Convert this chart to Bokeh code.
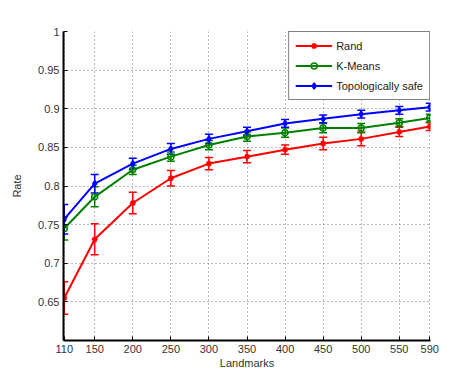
from bokeh.plotting import figure
from bokeh.models import (Range1d, FixedTicker, ColumnDataSource, Whisker, TeeHead,
                          Legend, LegendItem)
from bokeh.embed import file_html
from bokeh.resources import INLINE

landmarks = [110, 150, 200, 250, 300, 350, 400, 450, 500, 550, 590]
rand_mean = [0.655, 0.731, 0.778, 0.810, 0.829, 0.838, 0.847, 0.855, 0.861, 0.870, 0.877]
rand_err = [0.021, 0.020, 0.014, 0.010, 0.008, 0.008, 0.006, 0.008, 0.009, 0.006, 0.005]
kmeans_mean = [0.745, 0.786, 0.821, 0.838, 0.853, 0.864, 0.869, 0.875, 0.875, 0.882, 0.888]
kmeans_err = [0.015, 0.013, 0.006, 0.006, 0.006, 0.006, 0.006, 0.006, 0.006, 0.005, 0.005]
topo_mean = [0.757, 0.803, 0.829, 0.848, 0.861, 0.871, 0.881, 0.887, 0.893, 0.898, 0.902]
topo_err = [0.019, 0.012, 0.007, 0.007, 0.006, 0.005, 0.005, 0.005, 0.005, 0.005, 0.005]

y_ticks = [0.65, 0.7, 0.75, 0.8, 0.85, 0.9, 0.95, 1.0]
y_tick_labels = ["0.65", "0.7", "0.75", "0.8", "0.85", "0.9", "0.95", "1"]

series = [
    ("Rand", rand_mean, rand_err, "#ff0000", "asterisk"),
    ("K-Means", kmeans_mean, kmeans_err, "#008000", "circle"),
    ("Topologically safe", topo_mean, topo_err, "#0000ff", "diamond"),
]

FONT = "Liberation Sans"

p = figure(width=474, height=378, output_backend="svg", toolbar_location=None,
           x_range=Range1d(109, 591), y_range=Range1d(0.6, 1.0),
           min_border_left=63, min_border_right=44, min_border_top=31, min_border_bottom=38)
p.outline_line_color = None
p.background_fill_color = "white"

for ax in (p.xaxis[0], p.yaxis[0]):
    ax.axis_line_color = "black"
    ax.axis_line_width = 2
    ax.major_tick_in = 4
    ax.major_tick_out = 0
    ax.minor_tick_line_color = None
    ax.major_label_text_font = FONT
    ax.major_label_text_font_size = "11px"
    ax.major_label_text_color = "#333333"
    ax.axis_label_text_font = FONT
    ax.axis_label_text_font_size = "11px"
    ax.axis_label_text_font_style = "normal"
    ax.axis_label_text_color = "#333333"
    ax.major_label_standoff = 4

p.xaxis.ticker = FixedTicker(ticks=landmarks)
p.yaxis.ticker = FixedTicker(ticks=y_ticks)
p.yaxis.major_label_overrides = {t: l for t, l in zip(y_ticks, y_tick_labels)}
p.xaxis.major_label_overrides = {t: str(t) for t in landmarks}
p.xaxis.axis_label = "Landmarks"
p.yaxis.axis_label = "Rate"
p.xaxis.axis_label_standoff = 1
p.yaxis.axis_label_standoff = 12

for g in (p.xgrid[0], p.ygrid[0]):
    g.grid_line_color = "#777777"
    g.grid_line_dash = "1 3"
    g.grid_line_width = 1

items = []
for name, mean, err, color, marker in series:
    src = ColumnDataSource(dict(
        x=landmarks, y=mean,
        lo=[m - e for m, e in zip(mean, err)],
        hi=[m + e for m, e in zip(mean, err)],
    ))
    w = Whisker(source=src, base="x", upper="hi", lower="lo", dimension="height",
                line_color=color, line_width=1.5,
                upper_head=TeeHead(size=8, line_color=color, line_width=1.5),
                lower_head=TeeHead(size=8, line_color=color, line_width=1.5))
    p.add_layout(w)
    r1 = p.line("x", "y", source=src, line_color=color, line_width=2)
    r2 = p.scatter("x", "y", source=src, marker=marker, size=6, line_color=color,
                   fill_color=None, line_width=1.5)
    items.append(LegendItem(label=name, renderers=[r1, r2]))

legend = Legend(items=items, location="top_right", margin=0, padding=6, spacing=5,
                glyph_width=37, glyph_height=15, label_standoff=4,
                label_text_font=FONT, label_text_font_size="11px",
                label_text_color="#222222", label_height=15,
                border_line_color="black", border_line_width=1,
                background_fill_color="white", background_fill_alpha=1.0)
p.add_layout(legend, "center")

open("out.html", "w").write(file_html(p, INLINE))
